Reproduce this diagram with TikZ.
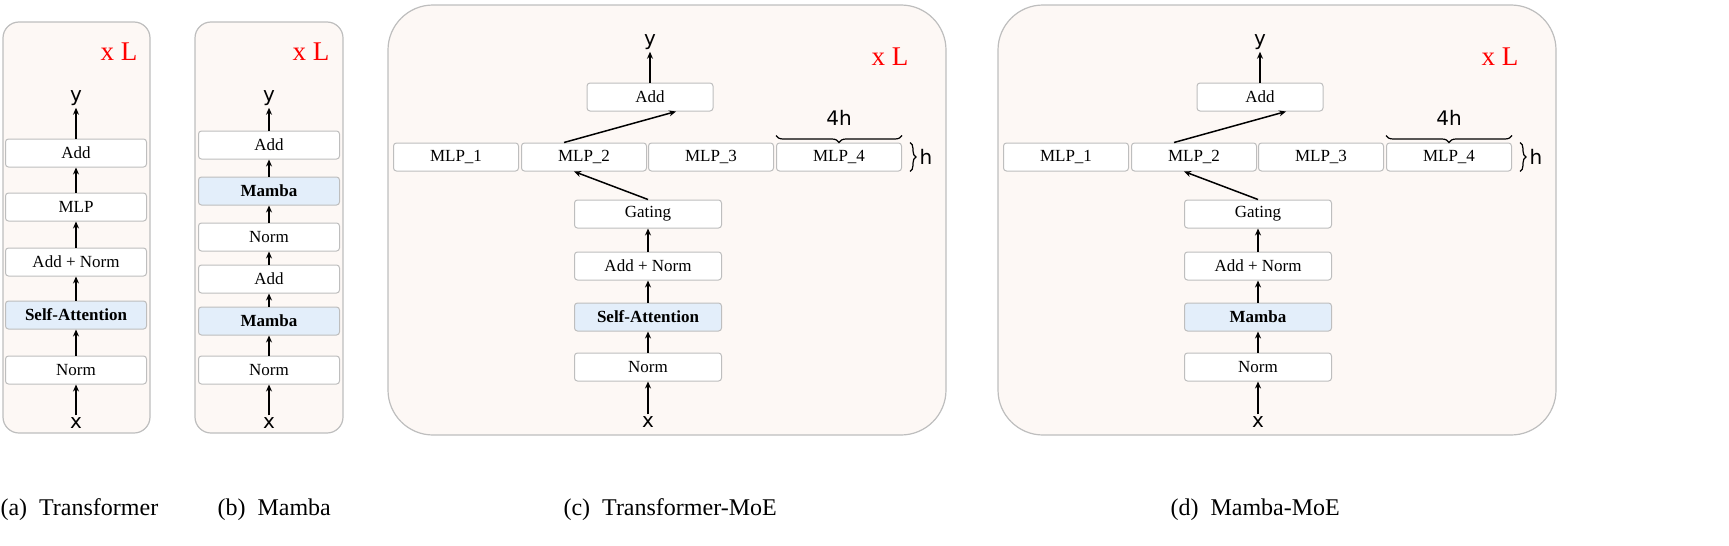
\documentclass[tikz,border=0pt]{standalone}
\usepackage{fontspec}
\setmainfont{Liberation Serif}
\newfontfamily\sans{DejaVu Sans}
\usetikzlibrary{arrows.meta,decorations.pathreplacing,calc}
\definecolor{panelbg}{RGB}{253,248,245}
\definecolor{edgegray}{RGB}{190,190,190}
\definecolor{bluefill}{RGB}{227,238,250}
\begin{document}
\begin{tikzpicture}[x=1pt,y=-1pt,
  panel/.style={draw=edgegray,line width=1.2pt,fill=panelbg},
  blk/.style={draw=edgegray,line width=1pt,fill=white,rounded corners=3pt,minimum height=28pt,inner sep=0pt,font=\fontsize{17}{17}\selectfont},
  bl/.style={blk,fill=bluefill,font=\fontsize{17}{17}\selectfont\bfseries},
  lbl/.style={font=\sans\fontsize{20}{20}\selectfont,inner sep=2pt},
  xl/.style={text=red,font=\fontsize{27}{27}\selectfont},
  captxt/.style={font=\fontsize{24}{24}\selectfont,anchor=west},
  arr/.style={-{Stealth[length=7pt,width=6pt]},line width=1.5pt}]
\useasboundingbox (0,0) rectangle (1729,546);
% panel a
\draw[panel,rounded corners=16pt] (3,22) rectangle (150,433);
\node[xl] (La) at (119,52) {x L};
\node[lbl] (ya) at (76,98) {y};
\node[blk,minimum width=141pt] (a1) at (76,153) {Add};
\node[blk,minimum width=141pt] (a2) at (76,207) {MLP};
\node[blk,minimum width=141pt] (a3) at (76,262) {Add + Norm};
\node[bl,minimum width=141pt] (a4) at (76,315) {Self-Attention};
\node[blk,minimum width=141pt] (a5) at (76,370) {Norm};
\node[lbl] (xa) at (76,423) {x};
\foreach \u/\v in {xa/a5,a5/a4,a4/a3,a3/a2,a2/a1,a1/ya} \draw[arr] (\u) -- (\v);
% panel b
\draw[panel,rounded corners=16pt] (195,22) rectangle (343,433);
\node[xl] (Lb) at (311,52) {x L};
\node[lbl] (yb) at (269,98) {y};
\node[blk,minimum width=141pt] (b1) at (269,145) {Add};
\node[bl,minimum width=141pt] (b2) at (269,191) {Mamba};
\node[blk,minimum width=141pt] (b3) at (269,237) {Norm};
\node[blk,minimum width=141pt] (b4) at (269,279) {Add};
\node[bl,minimum width=141pt] (b5) at (269,321) {Mamba};
\node[blk,minimum width=141pt] (b6) at (269,370) {Norm};
\node[lbl] (xb) at (269,423) {x};
\foreach \u/\v in {xb/b6,b6/b5,b5/b4,b4/b3,b3/b2,b2/b1,b1/yb} \draw[arr] (\u) -- (\v);
% panels c and d
\foreach \o/\nm/\bw in {0/Self-Attention/c,610/Mamba/d}{
\begin{scope}[xshift=\o]
\draw[panel,rounded corners=45pt] (388,5) rectangle (946,435);
\node[xl] (L\bw) at (890,57) {x L};
\node[lbl] (y\bw) at (650,42) {y};
\node[blk,minimum width=126pt] (add\bw) at (650,97) {Add};
\node[blk,minimum width=125pt] (m1\bw) at (456,157) {MLP\_1};
\node[blk,minimum width=125pt] (m2\bw) at (584,157) {MLP\_2};
\node[blk,minimum width=125pt] (m3\bw) at (711,157) {MLP\_3};
\node[blk,minimum width=125pt] (m4\bw) at (839,157) {MLP\_4};
\node[blk,minimum width=147pt] (g\bw) at (648,214) {Gating};
\node[blk,minimum width=147pt] (an\bw) at (648,266) {Add + Norm};
\node[bl,minimum width=147pt] (sa\bw) at (648,317) {\nm};
\node[blk,minimum width=147pt] (n\bw) at (648,367) {Norm};
\node[lbl] (x\bw) at (648,422) {x};
\foreach \u/\v in {x\bw/n\bw,n\bw/sa\bw,sa\bw/an\bw,an\bw/g\bw,add\bw/y\bw} \draw[arr] (\u) -- (\v);
\draw[arr] ([xshift=0pt]g\bw.north) -- ([xshift=-10pt]m2\bw.south);
\draw[arr] ([xshift=-20pt]m2\bw.north) -- ([xshift=26pt]add\bw.south);
\draw[line width=1.2pt,decorate,decoration={brace,amplitude=7pt}] ($(m4\bw.north east)+(0,-7)$) -- ($(m4\bw.north west)+(0,-7)$) node[lbl,midway,above=7pt] (fh\bw) {4h};
\draw[line width=1.2pt,decorate,decoration={brace,amplitude=6pt}] ([xshift=8pt]m4\bw.north east) -- ([xshift=8pt]m4\bw.south east) node[lbl,midway,right=7pt] (h\bw) {h};
\end{scope}}
% captions
\node[captxt] (ca) at (-3,510) {(a)\ \ Transformer};
\node[captxt] (cb) at (214,510) {(b)\ \ Mamba};
\node[captxt] (cc) at (560,510) {(c)\ \ Transformer-MoE};
\node[captxt] (cd) at (1167,510) {(d)\ \ Mamba-MoE};
\end{tikzpicture}
\end{document}
